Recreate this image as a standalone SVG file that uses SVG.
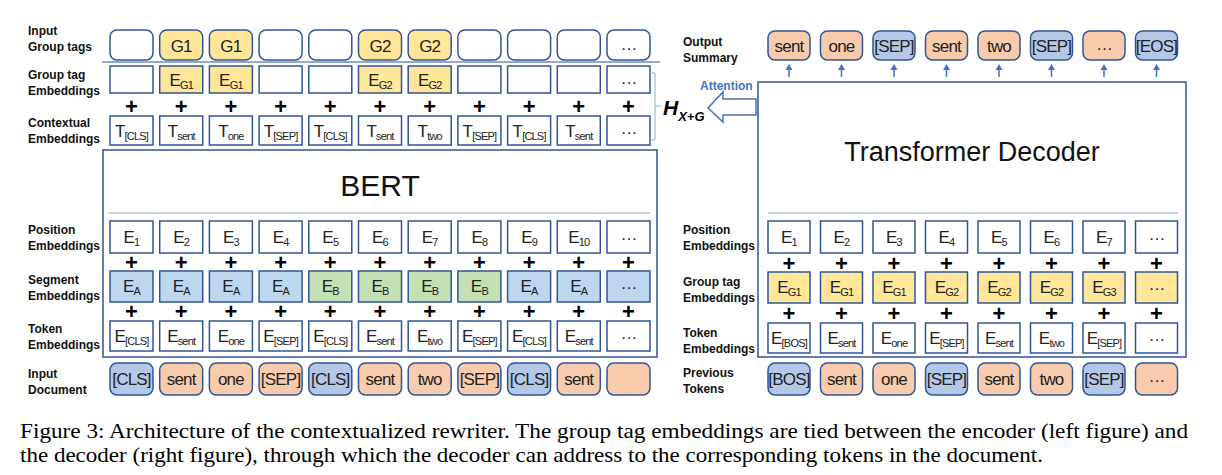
<svg xmlns="http://www.w3.org/2000/svg" width="1222" height="475" viewBox="0 0 1222 475">
<style>
.b{stroke:#2f5597;stroke-width:1.5;fill:#fff}
.y{fill:#ffe699}.bl{fill:#b4c7e7}.sa{fill:#bdd7ee}.sb{fill:#c5e0b4}.pe{fill:#f8cbad}
.t{font-family:"Liberation Sans",Arial,sans-serif;font-size:17px;fill:#222;text-anchor:middle;letter-spacing:-0.8px}
.s{font-size:11px;letter-spacing:-0.8px}
.l{font-family:"Liberation Sans",Arial,sans-serif;font-size:12px;font-weight:bold;fill:#111}
.p{font-family:"Liberation Sans",Arial,sans-serif;font-size:22px;font-weight:bold;text-anchor:middle;fill:#000}
.big{stroke:#2f5597;stroke-width:1.5;fill:none}
.cap{font-family:"Liberation Serif","Times New Roman",serif;font-size:21px;fill:#000}
</style>
<rect width="1222" height="475" fill="#fff"/>
<g id="labels">
<text class="l" x="28" y="35">Input</text><text class="l" x="28" y="51">Group tags</text>
<text class="l" x="28" y="79">Group tag</text><text class="l" x="28" y="95">Embeddings</text>
<text class="l" x="28" y="127">Contextual</text><text class="l" x="28" y="143">Embeddings</text>
<text class="l" x="28" y="234">Position</text><text class="l" x="28" y="250">Embeddings</text>
<text class="l" x="28" y="284">Segment</text><text class="l" x="28" y="300">Embeddings</text>
<text class="l" x="28" y="333">Token</text><text class="l" x="28" y="349">Embeddings</text>
<text class="l" x="28" y="378">Input</text><text class="l" x="28" y="394">Document</text>
<text class="l" x="683" y="46">Output</text><text class="l" x="683" y="62">Summary</text>
<text class="l" x="683" y="234">Position</text><text class="l" x="683" y="250">Embeddings</text>
<text class="l" x="683" y="286">Group tag</text><text class="l" x="683" y="302">Embeddings</text>
<text class="l" x="683" y="337">Token</text><text class="l" x="683" y="353">Embeddings</text>
<text class="l" x="683" y="377">Previous</text><text class="l" x="683" y="393">Tokens</text>
</g>
<g id="bert">
<rect class="big" x="103" y="150" width="554" height="207"/>
<line x1="108" y1="213" x2="650" y2="213" stroke="#b4c7e7" stroke-width="1.5"/>
<text x="380" y="196" font-family="Liberation Sans,Arial,sans-serif" font-size="30" text-anchor="middle" fill="#111">BERT</text>
</g>
<g id="decoder">
<rect class="big" x="758" y="82" width="428" height="275"/>
<line x1="768" y1="213" x2="1178" y2="213" stroke="#b4c7e7" stroke-width="1.5"/>
<text x="972" y="161" font-family="Liberation Sans,Arial,sans-serif" font-size="27" text-anchor="middle" fill="#111">Transformer Decoder</text>
</g>
<g id="left-group-tags">
<line x1="102" y1="62" x2="660" y2="62" stroke="#2f5597" stroke-width="1.2"/>
<rect class="b" x="110" y="30" width="43" height="30" rx="7"/>
<rect class="b y" x="159.7" y="30" width="43" height="30" rx="7"/><text class="t" x="181.2" y="52">G1</text>
<rect class="b y" x="209.4" y="30" width="43" height="30" rx="7"/><text class="t" x="230.9" y="52">G1</text>
<rect class="b" x="259.1" y="30" width="43" height="30" rx="7"/>
<rect class="b" x="308.8" y="30" width="43" height="30" rx="7"/>
<rect class="b y" x="358.5" y="30" width="43" height="30" rx="7"/><text class="t" x="380" y="52">G2</text>
<rect class="b y" x="408.2" y="30" width="43" height="30" rx="7"/><text class="t" x="429.7" y="52">G2</text>
<rect class="b" x="457.9" y="30" width="43" height="30" rx="7"/>
<rect class="b" x="507.6" y="30" width="43" height="30" rx="7"/>
<rect class="b" x="557.3" y="30" width="43" height="30" rx="7"/>
<rect class="b" x="607" y="30" width="43" height="30" rx="7"/><text class="t" x="628.5" y="50" font-size="13">…</text>
</g>
<g id="left-group-emb">
<rect class="b" x="110" y="66" width="43" height="27"/>
<rect class="b y" x="159.7" y="66" width="43" height="27"/><text class="t" x="181.2" y="86">E<tspan class="s" dy="3">G1</tspan></text>
<rect class="b y" x="209.4" y="66" width="43" height="27"/><text class="t" x="230.9" y="86">E<tspan class="s" dy="3">G1</tspan></text>
<rect class="b" x="259.1" y="66" width="43" height="27"/>
<rect class="b" x="308.8" y="66" width="43" height="27"/>
<rect class="b y" x="358.5" y="66" width="43" height="27"/><text class="t" x="380" y="86">E<tspan class="s" dy="3">G2</tspan></text>
<rect class="b y" x="408.2" y="66" width="43" height="27"/><text class="t" x="429.7" y="86">E<tspan class="s" dy="3">G2</tspan></text>
<rect class="b" x="457.9" y="66" width="43" height="27"/>
<rect class="b" x="507.6" y="66" width="43" height="27"/>
<rect class="b" x="557.3" y="66" width="43" height="27"/>
<rect class="b" x="607" y="66" width="43" height="27"/><text class="t" x="628.5" y="84" font-size="13">…</text>
</g>
<g id="left-contextual">
<rect class="b" x="110" y="116" width="43" height="29"/><text class="t" x="131.5" y="137">T<tspan class="s" dy="3">[CLS]</tspan></text>
<rect class="b" x="159.7" y="116" width="43" height="29"/><text class="t" x="181.2" y="137">T<tspan class="s" dy="3">sent</tspan></text>
<rect class="b" x="209.4" y="116" width="43" height="29"/><text class="t" x="230.9" y="137">T<tspan class="s" dy="3">one</tspan></text>
<rect class="b" x="259.1" y="116" width="43" height="29"/><text class="t" x="280.6" y="137">T<tspan class="s" dy="3">[SEP]</tspan></text>
<rect class="b" x="308.8" y="116" width="43" height="29"/><text class="t" x="330.3" y="137">T<tspan class="s" dy="3">[CLS]</tspan></text>
<rect class="b" x="358.5" y="116" width="43" height="29"/><text class="t" x="380" y="137">T<tspan class="s" dy="3">sent</tspan></text>
<rect class="b" x="408.2" y="116" width="43" height="29"/><text class="t" x="429.7" y="137">T<tspan class="s" dy="3">two</tspan></text>
<rect class="b" x="457.9" y="116" width="43" height="29"/><text class="t" x="479.4" y="137">T<tspan class="s" dy="3">[SEP]</tspan></text>
<rect class="b" x="507.6" y="116" width="43" height="29"/><text class="t" x="529.1" y="137">T<tspan class="s" dy="3">[CLS]</tspan></text>
<rect class="b" x="557.3" y="116" width="43" height="29"/><text class="t" x="578.8" y="137">T<tspan class="s" dy="3">sent</tspan></text>
<rect class="b" x="607" y="116" width="43" height="29"/><text class="t" x="628.5" y="134" font-size="13">…</text>
</g>
<g id="left-position">
<rect class="b" x="110" y="221" width="43" height="32"/><text class="t" x="131.5" y="243">E<tspan class="s" dy="3">1</tspan></text>
<rect class="b" x="159.7" y="221" width="43" height="32"/><text class="t" x="181.2" y="243">E<tspan class="s" dy="3">2</tspan></text>
<rect class="b" x="209.4" y="221" width="43" height="32"/><text class="t" x="230.9" y="243">E<tspan class="s" dy="3">3</tspan></text>
<rect class="b" x="259.1" y="221" width="43" height="32"/><text class="t" x="280.6" y="243">E<tspan class="s" dy="3">4</tspan></text>
<rect class="b" x="308.8" y="221" width="43" height="32"/><text class="t" x="330.3" y="243">E<tspan class="s" dy="3">5</tspan></text>
<rect class="b" x="358.5" y="221" width="43" height="32"/><text class="t" x="380" y="243">E<tspan class="s" dy="3">6</tspan></text>
<rect class="b" x="408.2" y="221" width="43" height="32"/><text class="t" x="429.7" y="243">E<tspan class="s" dy="3">7</tspan></text>
<rect class="b" x="457.9" y="221" width="43" height="32"/><text class="t" x="479.4" y="243">E<tspan class="s" dy="3">8</tspan></text>
<rect class="b" x="507.6" y="221" width="43" height="32"/><text class="t" x="529.1" y="243">E<tspan class="s" dy="3">9</tspan></text>
<rect class="b" x="557.3" y="221" width="43" height="32"/><text class="t" x="578.8" y="243">E<tspan class="s" dy="3">10</tspan></text>
<rect class="b" x="607" y="221" width="43" height="32"/><text class="t" x="628.5" y="240" font-size="13">…</text>
</g>
<g id="left-segment">
<rect class="b sa" x="110" y="271" width="43" height="31"/><text class="t" x="131.5" y="292">E<tspan class="s" dy="3">A</tspan></text>
<rect class="b sa" x="159.7" y="271" width="43" height="31"/><text class="t" x="181.2" y="292">E<tspan class="s" dy="3">A</tspan></text>
<rect class="b sa" x="209.4" y="271" width="43" height="31"/><text class="t" x="230.9" y="292">E<tspan class="s" dy="3">A</tspan></text>
<rect class="b sa" x="259.1" y="271" width="43" height="31"/><text class="t" x="280.6" y="292">E<tspan class="s" dy="3">A</tspan></text>
<rect class="b sb" x="308.8" y="271" width="43" height="31"/><text class="t" x="330.3" y="292">E<tspan class="s" dy="3">B</tspan></text>
<rect class="b sb" x="358.5" y="271" width="43" height="31"/><text class="t" x="380" y="292">E<tspan class="s" dy="3">B</tspan></text>
<rect class="b sb" x="408.2" y="271" width="43" height="31"/><text class="t" x="429.7" y="292">E<tspan class="s" dy="3">B</tspan></text>
<rect class="b sb" x="457.9" y="271" width="43" height="31"/><text class="t" x="479.4" y="292">E<tspan class="s" dy="3">B</tspan></text>
<rect class="b sa" x="507.6" y="271" width="43" height="31"/><text class="t" x="529.1" y="292">E<tspan class="s" dy="3">A</tspan></text>
<rect class="b sa" x="557.3" y="271" width="43" height="31"/><text class="t" x="578.8" y="292">E<tspan class="s" dy="3">A</tspan></text>
<rect class="b sa" x="607" y="271" width="43" height="31"/><text class="t" x="628.5" y="289" font-size="13">…</text>
</g>
<g id="left-token">
<rect class="b" x="110" y="321" width="43" height="30"/><text class="t" x="131.5" y="342">E<tspan class="s" dy="3">[CLS]</tspan></text>
<rect class="b" x="159.7" y="321" width="43" height="30"/><text class="t" x="181.2" y="342">E<tspan class="s" dy="3">sent</tspan></text>
<rect class="b" x="209.4" y="321" width="43" height="30"/><text class="t" x="230.9" y="342">E<tspan class="s" dy="3">one</tspan></text>
<rect class="b" x="259.1" y="321" width="43" height="30"/><text class="t" x="280.6" y="342">E<tspan class="s" dy="3">[SEP]</tspan></text>
<rect class="b" x="308.8" y="321" width="43" height="30"/><text class="t" x="330.3" y="342">E<tspan class="s" dy="3">[CLS]</tspan></text>
<rect class="b" x="358.5" y="321" width="43" height="30"/><text class="t" x="380" y="342">E<tspan class="s" dy="3">sent</tspan></text>
<rect class="b" x="408.2" y="321" width="43" height="30"/><text class="t" x="429.7" y="342">E<tspan class="s" dy="3">two</tspan></text>
<rect class="b" x="457.9" y="321" width="43" height="30"/><text class="t" x="479.4" y="342">E<tspan class="s" dy="3">[SEP]</tspan></text>
<rect class="b" x="507.6" y="321" width="43" height="30"/><text class="t" x="529.1" y="342">E<tspan class="s" dy="3">[CLS]</tspan></text>
<rect class="b" x="557.3" y="321" width="43" height="30"/><text class="t" x="578.8" y="342">E<tspan class="s" dy="3">sent</tspan></text>
<rect class="b" x="607" y="321" width="43" height="30"/><text class="t" x="628.5" y="339" font-size="13">…</text>
</g>
<g id="left-input">
<rect class="b bl" x="110" y="363" width="43" height="32" rx="7"/><text class="t" x="131.5" y="385">[CLS]</text>
<rect class="b pe" x="159.7" y="363" width="43" height="32" rx="7"/><text class="t" x="181.2" y="385">sent</text>
<rect class="b pe" x="209.4" y="363" width="43" height="32" rx="7"/><text class="t" x="230.9" y="385">one</text>
<rect class="b pe" x="259.1" y="363" width="43" height="32" rx="7"/><text class="t" x="280.6" y="385">[SEP]</text>
<rect class="b bl" x="308.8" y="363" width="43" height="32" rx="7"/><text class="t" x="330.3" y="385">[CLS]</text>
<rect class="b pe" x="358.5" y="363" width="43" height="32" rx="7"/><text class="t" x="380" y="385">sent</text>
<rect class="b pe" x="408.2" y="363" width="43" height="32" rx="7"/><text class="t" x="429.7" y="385">two</text>
<rect class="b pe" x="457.9" y="363" width="43" height="32" rx="7"/><text class="t" x="479.4" y="385">[SEP]</text>
<rect class="b bl" x="507.6" y="363" width="43" height="32" rx="7"/><text class="t" x="529.1" y="385">[CLS]</text>
<rect class="b pe" x="557.3" y="363" width="43" height="32" rx="7"/><text class="t" x="578.8" y="385">sent</text>
<rect class="b pe" x="607" y="363" width="43" height="32" rx="7"/>
</g>
<g id="left-plus">
<text class="p" y="114"><tspan x="131.5">+</tspan><tspan x="181.2">+</tspan><tspan x="230.9">+</tspan><tspan x="280.6">+</tspan><tspan x="330.3">+</tspan><tspan x="380">+</tspan><tspan x="429.7">+</tspan><tspan x="479.4">+</tspan><tspan x="529.1">+</tspan><tspan x="578.8">+</tspan><tspan x="628.5">+</tspan></text>
<text class="p" y="270"><tspan x="131.5">+</tspan><tspan x="181.2">+</tspan><tspan x="230.9">+</tspan><tspan x="280.6">+</tspan><tspan x="330.3">+</tspan><tspan x="380">+</tspan><tspan x="429.7">+</tspan><tspan x="479.4">+</tspan><tspan x="529.1">+</tspan><tspan x="578.8">+</tspan><tspan x="628.5">+</tspan></text>
<text class="p" y="319"><tspan x="131.5">+</tspan><tspan x="181.2">+</tspan><tspan x="230.9">+</tspan><tspan x="280.6">+</tspan><tspan x="330.3">+</tspan><tspan x="380">+</tspan><tspan x="429.7">+</tspan><tspan x="479.4">+</tspan><tspan x="529.1">+</tspan><tspan x="578.8">+</tspan><tspan x="628.5">+</tspan></text>
</g>
<g id="right-output">
<rect class="b pe" x="768" y="31" width="42" height="29" rx="7"/><text class="t" x="789" y="52">sent</text>
<rect class="b pe" x="820.5" y="31" width="42" height="29" rx="7"/><text class="t" x="841.5" y="52">one</text>
<rect class="b bl" x="873" y="31" width="42" height="29" rx="7"/><text class="t" x="894" y="52">[SEP]</text>
<rect class="b pe" x="925.5" y="31" width="42" height="29" rx="7"/><text class="t" x="946.5" y="52">sent</text>
<rect class="b pe" x="978" y="31" width="42" height="29" rx="7"/><text class="t" x="999" y="52">two</text>
<rect class="b bl" x="1030.5" y="31" width="42" height="29" rx="7"/><text class="t" x="1051.5" y="52">[SEP]</text>
<rect class="b pe" x="1083" y="31" width="42" height="29" rx="7"/><text class="t" x="1104" y="50" font-size="13">…</text>
<rect class="b bl" x="1135.5" y="31" width="42" height="29" rx="7"/><text class="t" x="1156.5" y="52">[EOS]</text>
</g>
<g id="right-position">
<rect class="b" x="768" y="221" width="42" height="32"/><text class="t" x="789" y="243">E<tspan class="s" dy="3">1</tspan></text>
<rect class="b" x="820.5" y="221" width="42" height="32"/><text class="t" x="841.5" y="243">E<tspan class="s" dy="3">2</tspan></text>
<rect class="b" x="873" y="221" width="42" height="32"/><text class="t" x="894" y="243">E<tspan class="s" dy="3">3</tspan></text>
<rect class="b" x="925.5" y="221" width="42" height="32"/><text class="t" x="946.5" y="243">E<tspan class="s" dy="3">4</tspan></text>
<rect class="b" x="978" y="221" width="42" height="32"/><text class="t" x="999" y="243">E<tspan class="s" dy="3">5</tspan></text>
<rect class="b" x="1030.5" y="221" width="42" height="32"/><text class="t" x="1051.5" y="243">E<tspan class="s" dy="3">6</tspan></text>
<rect class="b" x="1083" y="221" width="42" height="32"/><text class="t" x="1104" y="243">E<tspan class="s" dy="3">7</tspan></text>
<rect class="b" x="1135.5" y="221" width="42" height="32"/><text class="t" x="1156.5" y="240" font-size="13">…</text>
</g>
<g id="right-group-emb">
<rect class="b y" x="768" y="272" width="42" height="31"/><text class="t" x="789" y="293">E<tspan class="s" dy="3">G1</tspan></text>
<rect class="b y" x="820.5" y="272" width="42" height="31"/><text class="t" x="841.5" y="293">E<tspan class="s" dy="3">G1</tspan></text>
<rect class="b y" x="873" y="272" width="42" height="31"/><text class="t" x="894" y="293">E<tspan class="s" dy="3">G1</tspan></text>
<rect class="b y" x="925.5" y="272" width="42" height="31"/><text class="t" x="946.5" y="293">E<tspan class="s" dy="3">G2</tspan></text>
<rect class="b y" x="978" y="272" width="42" height="31"/><text class="t" x="999" y="293">E<tspan class="s" dy="3">G2</tspan></text>
<rect class="b y" x="1030.5" y="272" width="42" height="31"/><text class="t" x="1051.5" y="293">E<tspan class="s" dy="3">G2</tspan></text>
<rect class="b y" x="1083" y="272" width="42" height="31"/><text class="t" x="1104" y="293">E<tspan class="s" dy="3">G3</tspan></text>
<rect class="b y" x="1135.5" y="272" width="42" height="31"/><text class="t" x="1156.5" y="290" font-size="13">…</text>
</g>
<g id="right-token">
<rect class="b" x="768" y="323" width="42" height="30"/><text class="t" x="789" y="344">E<tspan class="s" dy="3">[BOS]</tspan></text>
<rect class="b" x="820.5" y="323" width="42" height="30"/><text class="t" x="841.5" y="344">E<tspan class="s" dy="3">sent</tspan></text>
<rect class="b" x="873" y="323" width="42" height="30"/><text class="t" x="894" y="344">E<tspan class="s" dy="3">one</tspan></text>
<rect class="b" x="925.5" y="323" width="42" height="30"/><text class="t" x="946.5" y="344">E<tspan class="s" dy="3">[SEP]</tspan></text>
<rect class="b" x="978" y="323" width="42" height="30"/><text class="t" x="999" y="344">E<tspan class="s" dy="3">sent</tspan></text>
<rect class="b" x="1030.5" y="323" width="42" height="30"/><text class="t" x="1051.5" y="344">E<tspan class="s" dy="3">two</tspan></text>
<rect class="b" x="1083" y="323" width="42" height="30"/><text class="t" x="1104" y="344">E<tspan class="s" dy="3">[SEP]</tspan></text>
<rect class="b" x="1135.5" y="323" width="42" height="30"/><text class="t" x="1156.5" y="341" font-size="13">…</text>
</g>
<g id="right-previous">
<rect class="b bl" x="768" y="363" width="42" height="32" rx="7"/><text class="t" x="789" y="385">[BOS]</text>
<rect class="b pe" x="820.5" y="363" width="42" height="32" rx="7"/><text class="t" x="841.5" y="385">sent</text>
<rect class="b pe" x="873" y="363" width="42" height="32" rx="7"/><text class="t" x="894" y="385">one</text>
<rect class="b bl" x="925.5" y="363" width="42" height="32" rx="7"/><text class="t" x="946.5" y="385">[SEP]</text>
<rect class="b pe" x="978" y="363" width="42" height="32" rx="7"/><text class="t" x="999" y="385">sent</text>
<rect class="b pe" x="1030.5" y="363" width="42" height="32" rx="7"/><text class="t" x="1051.5" y="385">two</text>
<rect class="b bl" x="1083" y="363" width="42" height="32" rx="7"/><text class="t" x="1104" y="385">[SEP]</text>
<rect class="b pe" x="1135.5" y="363" width="42" height="32" rx="7"/><text class="t" x="1156.5" y="382" font-size="13">…</text>
</g>
<g id="right-plus">
<text class="p" y="271"><tspan x="789">+</tspan><tspan x="841.5">+</tspan><tspan x="894">+</tspan><tspan x="946.5">+</tspan><tspan x="999">+</tspan><tspan x="1051.5">+</tspan><tspan x="1104">+</tspan><tspan x="1156.5">+</tspan></text>
<text class="p" y="321"><tspan x="789">+</tspan><tspan x="841.5">+</tspan><tspan x="894">+</tspan><tspan x="946.5">+</tspan><tspan x="999">+</tspan><tspan x="1051.5">+</tspan><tspan x="1104">+</tspan><tspan x="1156.5">+</tspan></text>
</g>
<g id="connectors" stroke="#4472c4" fill="#4472c4">
<g stroke-width="1.5">
<line x1="789" y1="77" x2="789" y2="68"/><line x1="841.5" y1="77" x2="841.5" y2="68"/><line x1="894" y1="77" x2="894" y2="68"/><line x1="946.5" y1="77" x2="946.5" y2="68"/><line x1="999" y1="77" x2="999" y2="68"/><line x1="1051.5" y1="77" x2="1051.5" y2="68"/><line x1="1104" y1="77" x2="1104" y2="68"/><line x1="1156.5" y1="77" x2="1156.5" y2="68"/>
</g>
<g stroke="none">
<path d="M789 64l-3.5 6h7z"/><path d="M841.5 64l-3.5 6h7z"/><path d="M894 64l-3.5 6h7z"/><path d="M946.5 64l-3.5 6h7z"/><path d="M999 64l-3.5 6h7z"/><path d="M1051.5 64l-3.5 6h7z"/><path d="M1104 64l-3.5 6h7z"/><path d="M1156.5 64l-3.5 6h7z"/>
</g>
<path d="M650 73h5v67h-5M655 106h6" fill="none" stroke="#8faadc" stroke-width="1"/>
<path d="M756 99H723V92L708 108L723 122V115H756Z" fill="#fff" stroke="#4472c4" stroke-width="1.5"/>
</g>
<g id="attention-labels">
<text x="700" y="90" font-family="Liberation Sans,Arial,sans-serif" font-size="12" font-weight="bold" fill="#4472c4">Attention</text>
<text x="663" y="115" font-family="Liberation Sans,Arial,sans-serif" font-size="21" font-style="italic" font-weight="bold" fill="#000">H<tspan font-size="13" dy="6">X+G</tspan></text>
</g>
<g id="caption">
<text class="cap" x="20" y="438" textLength="1168" lengthAdjust="spacingAndGlyphs">Figure 3: Architecture of the contextualized rewriter. The group tag embeddings are tied between the encoder (left figure) and</text>
<text class="cap" x="20" y="462" textLength="1023" lengthAdjust="spacingAndGlyphs">the decoder (right figure), through which the decoder can address to the corresponding tokens in the document.</text>
</g>
</svg>
